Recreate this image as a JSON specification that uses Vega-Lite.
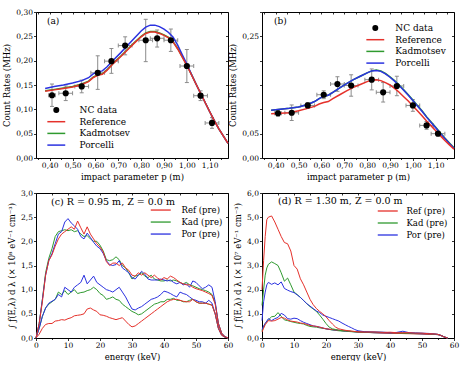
{
"$schema":"https://vega.github.io/schema/vega-lite/v6.json",
"padding":{"left":2,"top":7,"right":0,"bottom":0},
"config":{
 "font":"DejaVu Serif",
 "view":{"stroke":"black","strokeWidth":1},
 "axis":{"grid":false,"domain":false,"tickColor":"black","labelColor":"black","titleColor":"black","labelFontSize":7.5,"titleFontSize":8.5,"titleFontWeight":"normal","tickSize":2.5,"labelPadding":1,"titlePadding":3,"labelOverlap":false,"labelFlush":false,"tickWidth":0.8},
 "legend":{"labelColor":"black","padding":0,"offset":0,"labelLimit":200},
 "text":{"color":"black","align":"left","baseline":"middle"}
},
"datasets":{
 "one":[{"k":1}],
 "nc_a":[
  {"series":"NC data","p":0.41,"y":0.129,"ylo":0.106,"yhi":0.152,"xlo":0.395,"xhi":0.425},
  {"series":"NC data","p":0.47,"y":0.133,"ylo":0.118,"yhi":0.148,"xlo":0.44,"xhi":0.50},
  {"series":"NC data","p":0.54,"y":0.147,"ylo":0.134,"yhi":0.160,"xlo":0.51,"xhi":0.57},
  {"series":"NC data","p":0.61,"y":0.175,"ylo":0.141,"yhi":0.210,"xlo":0.58,"xhi":0.64},
  {"series":"NC data","p":0.67,"y":0.199,"ylo":0.174,"yhi":0.225,"xlo":0.64,"xhi":0.70},
  {"series":"NC data","p":0.73,"y":0.231,"ylo":0.212,"yhi":0.249,"xlo":0.70,"xhi":0.76},
  {"series":"NC data","p":0.82,"y":0.242,"ylo":0.198,"yhi":0.285,"xlo":0.79,"xhi":0.85},
  {"series":"NC data","p":0.87,"y":0.246,"ylo":0.228,"yhi":0.263,"xlo":0.84,"xhi":0.90},
  {"series":"NC data","p":0.93,"y":0.242,"ylo":0.219,"yhi":0.265,"xlo":0.90,"xhi":0.96},
  {"series":"NC data","p":1.00,"y":0.189,"ylo":0.155,"yhi":0.223,"xlo":0.97,"xhi":1.03},
  {"series":"NC data","p":1.06,"y":0.128,"ylo":0.118,"yhi":0.138,"xlo":1.03,"xhi":1.09},
  {"series":"NC data","p":1.11,"y":0.072,"ylo":0.061,"yhi":0.083,"xlo":1.08,"xhi":1.14}
 ],
 "nc_b":[
  {"series":"NC data","p":0.41,"y":0.092,"ylo":0.086,"yhi":0.098,"xlo":0.395,"xhi":0.425},
  {"series":"NC data","p":0.47,"y":0.093,"ylo":0.077,"yhi":0.109,"xlo":0.44,"xhi":0.50},
  {"series":"NC data","p":0.54,"y":0.108,"ylo":0.102,"yhi":0.114,"xlo":0.51,"xhi":0.57},
  {"series":"NC data","p":0.61,"y":0.130,"ylo":0.122,"yhi":0.138,"xlo":0.58,"xhi":0.64},
  {"series":"NC data","p":0.67,"y":0.152,"ylo":0.137,"yhi":0.167,"xlo":0.64,"xhi":0.70},
  {"series":"NC data","p":0.73,"y":0.149,"ylo":0.127,"yhi":0.171,"xlo":0.70,"xhi":0.76},
  {"series":"NC data","p":0.82,"y":0.161,"ylo":0.140,"yhi":0.183,"xlo":0.79,"xhi":0.85},
  {"series":"NC data","p":0.87,"y":0.135,"ylo":0.115,"yhi":0.155,"xlo":0.84,"xhi":0.90},
  {"series":"NC data","p":0.93,"y":0.148,"ylo":0.128,"yhi":0.168,"xlo":0.90,"xhi":0.96},
  {"series":"NC data","p":1.00,"y":0.108,"ylo":0.096,"yhi":0.120,"xlo":0.97,"xhi":1.03},
  {"series":"NC data","p":1.06,"y":0.067,"ylo":0.059,"yhi":0.075,"xlo":1.03,"xhi":1.09},
  {"series":"NC data","p":1.11,"y":0.050,"ylo":0.047,"yhi":0.053,"xlo":1.08,"xhi":1.14}
 ],
 "cur_a":[
  {"p":0.38,"Reference":0.137,"Kadmotsev":0.138,"Porcelli":0.143},
  {"p":0.42,"Reference":0.140,"Kadmotsev":0.141,"Porcelli":0.147},
  {"p":0.46,"Reference":0.143,"Kadmotsev":0.144,"Porcelli":0.150},
  {"p":0.50,"Reference":0.146,"Kadmotsev":0.147,"Porcelli":0.154},
  {"p":0.54,"Reference":0.151,"Kadmotsev":0.152,"Porcelli":0.159},
  {"p":0.57,"Reference":0.157,"Kadmotsev":0.158,"Porcelli":0.165},
  {"p":0.59,"Reference":0.165,"Kadmotsev":0.166,"Porcelli":0.173},
  {"p":0.61,"Reference":0.170,"Kadmotsev":0.171,"Porcelli":0.177},
  {"p":0.63,"Reference":0.172,"Kadmotsev":0.173,"Porcelli":0.179},
  {"p":0.65,"Reference":0.180,"Kadmotsev":0.181,"Porcelli":0.187},
  {"p":0.68,"Reference":0.195,"Kadmotsev":0.196,"Porcelli":0.202},
  {"p":0.71,"Reference":0.208,"Kadmotsev":0.209,"Porcelli":0.216},
  {"p":0.74,"Reference":0.222,"Kadmotsev":0.223,"Porcelli":0.231},
  {"p":0.77,"Reference":0.236,"Kadmotsev":0.237,"Porcelli":0.246},
  {"p":0.80,"Reference":0.249,"Kadmotsev":0.250,"Porcelli":0.261},
  {"p":0.82,"Reference":0.256,"Kadmotsev":0.257,"Porcelli":0.269},
  {"p":0.84,"Reference":0.259,"Kadmotsev":0.260,"Porcelli":0.273},
  {"p":0.86,"Reference":0.259,"Kadmotsev":0.260,"Porcelli":0.273},
  {"p":0.88,"Reference":0.256,"Kadmotsev":0.257,"Porcelli":0.270},
  {"p":0.90,"Reference":0.252,"Kadmotsev":0.253,"Porcelli":0.265},
  {"p":0.92,"Reference":0.247,"Kadmotsev":0.248,"Porcelli":0.258},
  {"p":0.94,"Reference":0.238,"Kadmotsev":0.239,"Porcelli":0.248},
  {"p":0.96,"Reference":0.224,"Kadmotsev":0.225,"Porcelli":0.232},
  {"p":0.98,"Reference":0.207,"Kadmotsev":0.208,"Porcelli":0.212},
  {"p":1.00,"Reference":0.190,"Kadmotsev":0.191,"Porcelli":0.193},
  {"p":1.02,"Reference":0.171,"Kadmotsev":0.172,"Porcelli":0.172},
  {"p":1.04,"Reference":0.152,"Kadmotsev":0.152,"Porcelli":0.152},
  {"p":1.06,"Reference":0.133,"Kadmotsev":0.133,"Porcelli":0.133},
  {"p":1.08,"Reference":0.114,"Kadmotsev":0.114,"Porcelli":0.114},
  {"p":1.10,"Reference":0.095,"Kadmotsev":0.095,"Porcelli":0.095},
  {"p":1.12,"Reference":0.077,"Kadmotsev":0.077,"Porcelli":0.077},
  {"p":1.14,"Reference":0.060,"Kadmotsev":0.060,"Porcelli":0.060},
  {"p":1.16,"Reference":0.045,"Kadmotsev":0.045,"Porcelli":0.045},
  {"p":1.18,"Reference":0.030,"Kadmotsev":0.030,"Porcelli":0.030}
 ],
 "cur_b":[
  {"p":0.38,"Reference":0.091,"Kadmotsev":0.098,"Porcelli":0.098},
  {"p":0.42,"Reference":0.092,"Kadmotsev":0.100,"Porcelli":0.100},
  {"p":0.46,"Reference":0.093,"Kadmotsev":0.102,"Porcelli":0.102},
  {"p":0.50,"Reference":0.097,"Kadmotsev":0.105,"Porcelli":0.105},
  {"p":0.54,"Reference":0.102,"Kadmotsev":0.110,"Porcelli":0.110},
  {"p":0.57,"Reference":0.106,"Kadmotsev":0.116,"Porcelli":0.116},
  {"p":0.59,"Reference":0.111,"Kadmotsev":0.122,"Porcelli":0.122},
  {"p":0.61,"Reference":0.114,"Kadmotsev":0.127,"Porcelli":0.127},
  {"p":0.63,"Reference":0.116,"Kadmotsev":0.129,"Porcelli":0.129},
  {"p":0.65,"Reference":0.122,"Kadmotsev":0.135,"Porcelli":0.135},
  {"p":0.68,"Reference":0.130,"Kadmotsev":0.144,"Porcelli":0.144},
  {"p":0.71,"Reference":0.138,"Kadmotsev":0.153,"Porcelli":0.153},
  {"p":0.74,"Reference":0.145,"Kadmotsev":0.161,"Porcelli":0.161},
  {"p":0.77,"Reference":0.151,"Kadmotsev":0.168,"Porcelli":0.168},
  {"p":0.80,"Reference":0.157,"Kadmotsev":0.175,"Porcelli":0.175},
  {"p":0.82,"Reference":0.160,"Kadmotsev":0.179,"Porcelli":0.179},
  {"p":0.84,"Reference":0.161,"Kadmotsev":0.181,"Porcelli":0.180},
  {"p":0.86,"Reference":0.159,"Kadmotsev":0.179,"Porcelli":0.178},
  {"p":0.88,"Reference":0.155,"Kadmotsev":0.174,"Porcelli":0.173},
  {"p":0.90,"Reference":0.150,"Kadmotsev":0.167,"Porcelli":0.166},
  {"p":0.92,"Reference":0.143,"Kadmotsev":0.159,"Porcelli":0.158},
  {"p":0.94,"Reference":0.135,"Kadmotsev":0.150,"Porcelli":0.149},
  {"p":0.96,"Reference":0.126,"Kadmotsev":0.140,"Porcelli":0.139},
  {"p":0.98,"Reference":0.117,"Kadmotsev":0.130,"Porcelli":0.129},
  {"p":1.00,"Reference":0.107,"Kadmotsev":0.119,"Porcelli":0.118},
  {"p":1.02,"Reference":0.097,"Kadmotsev":0.108,"Porcelli":0.107},
  {"p":1.04,"Reference":0.087,"Kadmotsev":0.097,"Porcelli":0.096},
  {"p":1.06,"Reference":0.076,"Kadmotsev":0.085,"Porcelli":0.084},
  {"p":1.08,"Reference":0.066,"Kadmotsev":0.074,"Porcelli":0.073},
  {"p":1.10,"Reference":0.056,"Kadmotsev":0.063,"Porcelli":0.062},
  {"p":1.12,"Reference":0.046,"Kadmotsev":0.052,"Porcelli":0.051},
  {"p":1.14,"Reference":0.036,"Kadmotsev":0.041,"Porcelli":0.040},
  {"p":1.16,"Reference":0.027,"Kadmotsev":0.031,"Porcelli":0.030},
  {"p":1.18,"Reference":0.018,"Kadmotsev":0.021,"Porcelli":0.020}
 ],
 "c_hi":[
  {"E":0,"Ref (pre)":0,"Kad (pre)":0,"Por (pre)":0},
  {"E":1,"Ref (pre)":0.3,"Kad (pre)":0.3,"Por (pre)":0.3},
  {"E":2,"Ref (pre)":0.75,"Kad (pre)":0.8,"Por (pre)":0.8},
  {"E":3,"Ref (pre)":1.3,"Kad (pre)":1.35,"Por (pre)":1.3},
  {"E":4,"Ref (pre)":1.6,"Kad (pre)":1.65,"Por (pre)":1.6},
  {"E":5,"Ref (pre)":1.72,"Kad (pre)":1.85,"Por (pre)":1.75},
  {"E":6,"Ref (pre)":1.9,"Kad (pre)":2.1,"Por (pre)":1.95},
  {"E":7,"Ref (pre)":2.05,"Kad (pre)":2.2,"Por (pre)":2.15},
  {"E":8,"Ref (pre)":2.15,"Kad (pre)":2.22,"Por (pre)":2.2},
  {"E":9,"Ref (pre)":2.2,"Kad (pre)":2.24,"Por (pre)":2.4},
  {"E":10,"Ref (pre)":2.25,"Kad (pre)":2.22,"Por (pre)":2.47},
  {"E":11,"Ref (pre)":2.3,"Kad (pre)":2.24,"Por (pre)":2.38},
  {"E":12,"Ref (pre)":2.25,"Kad (pre)":2.2,"Por (pre)":2.32},
  {"E":13,"Ref (pre)":2.42,"Kad (pre)":2.22,"Por (pre)":2.25},
  {"E":14,"Ref (pre)":2.28,"Kad (pre)":2.15,"Por (pre)":2.1},
  {"E":15,"Ref (pre)":2.15,"Kad (pre)":2.1,"Por (pre)":2.05},
  {"E":16,"Ref (pre)":2.3,"Kad (pre)":2.12,"Por (pre)":2.17},
  {"E":17,"Ref (pre)":2.15,"Kad (pre)":2.05,"Por (pre)":2.08},
  {"E":18,"Ref (pre)":2.05,"Kad (pre)":2.0,"Por (pre)":1.98},
  {"E":19,"Ref (pre)":1.95,"Kad (pre)":2.0,"Por (pre)":1.9},
  {"E":20,"Ref (pre)":1.88,"Kad (pre)":1.92,"Por (pre)":1.85},
  {"E":21,"Ref (pre)":1.78,"Kad (pre)":1.8,"Por (pre)":1.75},
  {"E":22,"Ref (pre)":1.58,"Kad (pre)":1.62,"Por (pre)":1.6},
  {"E":23,"Ref (pre)":1.5,"Kad (pre)":1.6,"Por (pre)":1.52},
  {"E":24,"Ref (pre)":1.55,"Kad (pre)":1.62,"Por (pre)":1.5},
  {"E":25,"Ref (pre)":1.55,"Kad (pre)":1.68,"Por (pre)":1.52},
  {"E":26,"Ref (pre)":1.5,"Kad (pre)":1.62,"Por (pre)":1.6},
  {"E":27,"Ref (pre)":1.55,"Kad (pre)":1.5,"Por (pre)":1.45},
  {"E":28,"Ref (pre)":1.45,"Kad (pre)":1.45,"Por (pre)":1.4},
  {"E":29,"Ref (pre)":1.4,"Kad (pre)":1.35,"Por (pre)":1.35},
  {"E":30,"Ref (pre)":1.3,"Kad (pre)":1.22,"Por (pre)":1.25},
  {"E":31,"Ref (pre)":1.28,"Kad (pre)":1.28,"Por (pre)":1.22},
  {"E":32,"Ref (pre)":1.35,"Kad (pre)":1.3,"Por (pre)":1.3},
  {"E":33,"Ref (pre)":1.3,"Kad (pre)":1.35,"Por (pre)":1.38},
  {"E":34,"Ref (pre)":1.35,"Kad (pre)":1.28,"Por (pre)":1.32},
  {"E":35,"Ref (pre)":1.3,"Kad (pre)":1.25,"Por (pre)":1.22},
  {"E":36,"Ref (pre)":1.25,"Kad (pre)":1.3,"Por (pre)":1.2},
  {"E":37,"Ref (pre)":1.3,"Kad (pre)":1.22,"Por (pre)":1.2},
  {"E":38,"Ref (pre)":1.24,"Kad (pre)":1.2,"Por (pre)":1.2},
  {"E":39,"Ref (pre)":1.2,"Kad (pre)":1.18,"Por (pre)":1.22},
  {"E":40,"Ref (pre)":1.25,"Kad (pre)":1.18,"Por (pre)":1.2},
  {"E":41,"Ref (pre)":1.22,"Kad (pre)":1.2,"Por (pre)":1.18},
  {"E":42,"Ref (pre)":1.28,"Kad (pre)":1.18,"Por (pre)":1.2},
  {"E":43,"Ref (pre)":1.25,"Kad (pre)":1.2,"Por (pre)":1.15},
  {"E":44,"Ref (pre)":1.2,"Kad (pre)":1.18,"Por (pre)":1.12},
  {"E":45,"Ref (pre)":1.15,"Kad (pre)":1.15,"Por (pre)":1.15},
  {"E":46,"Ref (pre)":1.12,"Kad (pre)":1.12,"Por (pre)":1.1},
  {"E":47,"Ref (pre)":1.1,"Kad (pre)":1.15,"Por (pre)":1.12},
  {"E":48,"Ref (pre)":1.1,"Kad (pre)":1.1,"Por (pre)":1.05},
  {"E":49,"Ref (pre)":1.05,"Kad (pre)":1.08,"Por (pre)":1.18},
  {"E":50,"Ref (pre)":1.02,"Kad (pre)":1.05,"Por (pre)":1.15},
  {"E":51,"Ref (pre)":1.0,"Kad (pre)":1.02,"Por (pre)":1.08},
  {"E":52,"Ref (pre)":0.98,"Kad (pre)":1.0,"Por (pre)":1.02},
  {"E":53,"Ref (pre)":0.95,"Kad (pre)":0.98,"Por (pre)":1.05},
  {"E":54,"Ref (pre)":0.92,"Kad (pre)":0.95,"Por (pre)":1.1},
  {"E":55,"Ref (pre)":0.88,"Kad (pre)":0.9,"Por (pre)":1.05},
  {"E":56,"Ref (pre)":0.7,"Kad (pre)":0.72,"Por (pre)":0.75},
  {"E":57,"Ref (pre)":0.3,"Kad (pre)":0.3,"Por (pre)":0.3},
  {"E":58,"Ref (pre)":0.1,"Kad (pre)":0.1,"Por (pre)":0.1},
  {"E":59,"Ref (pre)":0.03,"Kad (pre)":0.03,"Por (pre)":0.03},
  {"E":60,"Ref (pre)":0,"Kad (pre)":0,"Por (pre)":0}
 ],
 "c_lo":[
  {"E":0,"Ref (pre)":0,"Kad (pre)":0,"Por (pre)":0},
  {"E":1,"Ref (pre)":0.08,"Kad (pre)":0.2,"Por (pre)":0.2},
  {"E":2,"Ref (pre)":0.2,"Kad (pre)":0.45,"Por (pre)":0.45},
  {"E":3,"Ref (pre)":0.28,"Kad (pre)":0.62,"Por (pre)":0.62},
  {"E":4,"Ref (pre)":0.3,"Kad (pre)":0.7,"Por (pre)":0.72},
  {"E":5,"Ref (pre)":0.3,"Kad (pre)":0.75,"Por (pre)":0.76},
  {"E":6,"Ref (pre)":0.35,"Kad (pre)":0.8,"Por (pre)":0.8},
  {"E":7,"Ref (pre)":0.36,"Kad (pre)":0.95,"Por (pre)":0.9},
  {"E":8,"Ref (pre)":0.38,"Kad (pre)":0.9,"Por (pre)":0.85},
  {"E":9,"Ref (pre)":0.37,"Kad (pre)":0.98,"Por (pre)":1.05},
  {"E":10,"Ref (pre)":0.4,"Kad (pre)":0.9,"Por (pre)":1.0},
  {"E":11,"Ref (pre)":0.42,"Kad (pre)":0.95,"Por (pre)":0.95},
  {"E":12,"Ref (pre)":0.46,"Kad (pre)":1.0,"Por (pre)":1.05},
  {"E":13,"Ref (pre)":0.47,"Kad (pre)":0.92,"Por (pre)":1.1},
  {"E":14,"Ref (pre)":0.48,"Kad (pre)":0.94,"Por (pre)":1.15},
  {"E":15,"Ref (pre)":0.5,"Kad (pre)":0.95,"Por (pre)":1.3},
  {"E":16,"Ref (pre)":0.6,"Kad (pre)":0.98,"Por (pre)":1.12},
  {"E":17,"Ref (pre)":0.62,"Kad (pre)":1.0,"Por (pre)":1.2},
  {"E":18,"Ref (pre)":0.58,"Kad (pre)":1.05,"Por (pre)":1.28},
  {"E":19,"Ref (pre)":0.55,"Kad (pre)":1.0,"Por (pre)":1.15},
  {"E":20,"Ref (pre)":0.48,"Kad (pre)":0.92,"Por (pre)":1.1},
  {"E":21,"Ref (pre)":0.47,"Kad (pre)":0.88,"Por (pre)":1.05},
  {"E":22,"Ref (pre)":0.45,"Kad (pre)":0.8,"Por (pre)":1.0},
  {"E":23,"Ref (pre)":0.42,"Kad (pre)":0.82,"Por (pre)":0.98},
  {"E":24,"Ref (pre)":0.4,"Kad (pre)":0.85,"Por (pre)":0.95},
  {"E":25,"Ref (pre)":0.38,"Kad (pre)":0.8,"Por (pre)":1.0},
  {"E":26,"Ref (pre)":0.4,"Kad (pre)":0.78,"Por (pre)":1.05},
  {"E":27,"Ref (pre)":0.42,"Kad (pre)":0.7,"Por (pre)":0.95},
  {"E":28,"Ref (pre)":0.35,"Kad (pre)":0.65,"Por (pre)":0.85},
  {"E":29,"Ref (pre)":0.28,"Kad (pre)":0.6,"Por (pre)":0.72},
  {"E":30,"Ref (pre)":0.23,"Kad (pre)":0.55,"Por (pre)":0.6},
  {"E":31,"Ref (pre)":0.25,"Kad (pre)":0.52,"Por (pre)":0.58},
  {"E":32,"Ref (pre)":0.3,"Kad (pre)":0.48,"Por (pre)":0.62},
  {"E":33,"Ref (pre)":0.35,"Kad (pre)":0.5,"Por (pre)":0.65},
  {"E":34,"Ref (pre)":0.4,"Kad (pre)":0.55,"Por (pre)":0.7},
  {"E":35,"Ref (pre)":0.45,"Kad (pre)":0.6,"Por (pre)":0.75},
  {"E":36,"Ref (pre)":0.5,"Kad (pre)":0.65,"Por (pre)":0.8},
  {"E":37,"Ref (pre)":0.55,"Kad (pre)":0.7,"Por (pre)":0.82},
  {"E":38,"Ref (pre)":0.6,"Kad (pre)":0.72,"Por (pre)":0.85},
  {"E":39,"Ref (pre)":0.65,"Kad (pre)":0.75,"Por (pre)":0.9},
  {"E":40,"Ref (pre)":0.7,"Kad (pre)":0.75,"Por (pre)":0.97},
  {"E":41,"Ref (pre)":0.75,"Kad (pre)":0.8,"Por (pre)":0.95},
  {"E":42,"Ref (pre)":0.78,"Kad (pre)":0.8,"Por (pre)":0.92},
  {"E":43,"Ref (pre)":0.8,"Kad (pre)":0.82,"Por (pre)":0.88},
  {"E":44,"Ref (pre)":0.8,"Kad (pre)":0.78,"Por (pre)":0.85},
  {"E":45,"Ref (pre)":0.78,"Kad (pre)":0.78,"Por (pre)":0.95},
  {"E":46,"Ref (pre)":0.76,"Kad (pre)":0.75,"Por (pre)":0.92},
  {"E":47,"Ref (pre)":0.75,"Kad (pre)":0.75,"Por (pre)":0.9},
  {"E":48,"Ref (pre)":0.75,"Kad (pre)":0.78,"Por (pre)":0.85},
  {"E":49,"Ref (pre)":0.8,"Kad (pre)":0.8,"Por (pre)":0.8},
  {"E":50,"Ref (pre)":0.75,"Kad (pre)":0.75,"Por (pre)":0.78},
  {"E":51,"Ref (pre)":0.72,"Kad (pre)":0.72,"Por (pre)":0.75},
  {"E":52,"Ref (pre)":0.72,"Kad (pre)":0.72,"Por (pre)":0.75},
  {"E":53,"Ref (pre)":0.72,"Kad (pre)":0.72,"Por (pre)":0.72},
  {"E":54,"Ref (pre)":0.7,"Kad (pre)":0.7,"Por (pre)":0.78},
  {"E":55,"Ref (pre)":0.68,"Kad (pre)":0.68,"Por (pre)":0.72},
  {"E":56,"Ref (pre)":0.5,"Kad (pre)":0.5,"Por (pre)":0.5},
  {"E":57,"Ref (pre)":0.2,"Kad (pre)":0.2,"Por (pre)":0.2},
  {"E":58,"Ref (pre)":0.06,"Kad (pre)":0.06,"Por (pre)":0.06},
  {"E":59,"Ref (pre)":0.02,"Kad (pre)":0.02,"Por (pre)":0.02},
  {"E":60,"Ref (pre)":0,"Kad (pre)":0,"Por (pre)":0}
 ],
 "d_hi":[
  {"E":0,"Ref (pre)":2.0,"Kad (pre)":1.35,"Por (pre)":0.72},
  {"E":0.5,"Ref (pre)":3.2,"Kad (pre)":2.0,"Por (pre)":1.5},
  {"E":1,"Ref (pre)":4.2,"Kad (pre)":2.6,"Por (pre)":1.9},
  {"E":1.5,"Ref (pre)":4.9,"Kad (pre)":2.9,"Por (pre)":2.2},
  {"E":2,"Ref (pre)":5.0,"Kad (pre)":3.05,"Por (pre)":2.3},
  {"E":3,"Ref (pre)":5.05,"Kad (pre)":3.15,"Por (pre)":2.22},
  {"E":4,"Ref (pre)":4.8,"Kad (pre)":3.08,"Por (pre)":2.28},
  {"E":5,"Ref (pre)":4.5,"Kad (pre)":3.0,"Por (pre)":2.2},
  {"E":6,"Ref (pre)":4.2,"Kad (pre)":2.7,"Por (pre)":2.32},
  {"E":7,"Ref (pre)":3.95,"Kad (pre)":2.35,"Por (pre)":2.05},
  {"E":8,"Ref (pre)":3.9,"Kad (pre)":2.48,"Por (pre)":1.98},
  {"E":9,"Ref (pre)":3.6,"Kad (pre)":2.2,"Por (pre)":1.92},
  {"E":10,"Ref (pre)":3.0,"Kad (pre)":1.9,"Por (pre)":1.88},
  {"E":11,"Ref (pre)":2.85,"Kad (pre)":1.8,"Por (pre)":1.78},
  {"E":12,"Ref (pre)":2.45,"Kad (pre)":1.68,"Por (pre)":1.68},
  {"E":13,"Ref (pre)":2.2,"Kad (pre)":1.55,"Por (pre)":1.55},
  {"E":14,"Ref (pre)":1.9,"Kad (pre)":1.42,"Por (pre)":1.42},
  {"E":15,"Ref (pre)":1.6,"Kad (pre)":1.3,"Por (pre)":1.32},
  {"E":16,"Ref (pre)":1.38,"Kad (pre)":1.2,"Por (pre)":1.22},
  {"E":17,"Ref (pre)":1.22,"Kad (pre)":1.1,"Por (pre)":1.12},
  {"E":18,"Ref (pre)":1.1,"Kad (pre)":0.95,"Por (pre)":1.05},
  {"E":19,"Ref (pre)":1.0,"Kad (pre)":0.78,"Por (pre)":0.95},
  {"E":20,"Ref (pre)":0.88,"Kad (pre)":0.6,"Por (pre)":0.9},
  {"E":21,"Ref (pre)":0.72,"Kad (pre)":0.45,"Por (pre)":0.85},
  {"E":22,"Ref (pre)":0.58,"Kad (pre)":0.38,"Por (pre)":0.8},
  {"E":23,"Ref (pre)":0.45,"Kad (pre)":0.35,"Por (pre)":0.75},
  {"E":24,"Ref (pre)":0.38,"Kad (pre)":0.32,"Por (pre)":0.7},
  {"E":25,"Ref (pre)":0.35,"Kad (pre)":0.3,"Por (pre)":0.62},
  {"E":26,"Ref (pre)":0.32,"Kad (pre)":0.3,"Por (pre)":0.55},
  {"E":27,"Ref (pre)":0.3,"Kad (pre)":0.28,"Por (pre)":0.48},
  {"E":28,"Ref (pre)":0.28,"Kad (pre)":0.27,"Por (pre)":0.42},
  {"E":29,"Ref (pre)":0.27,"Kad (pre)":0.26,"Por (pre)":0.35},
  {"E":30,"Ref (pre)":0.26,"Kad (pre)":0.26,"Por (pre)":0.3},
  {"E":32,"Ref (pre)":0.25,"Kad (pre)":0.25,"Por (pre)":0.26},
  {"E":35,"Ref (pre)":0.25,"Kad (pre)":0.24,"Por (pre)":0.25},
  {"E":38,"Ref (pre)":0.23,"Kad (pre)":0.23,"Por (pre)":0.24},
  {"E":40,"Ref (pre)":0.24,"Kad (pre)":0.22,"Por (pre)":0.22},
  {"E":42,"Ref (pre)":0.22,"Kad (pre)":0.22,"Por (pre)":0.23},
  {"E":44,"Ref (pre)":0.22,"Kad (pre)":0.2,"Por (pre)":0.28},
  {"E":46,"Ref (pre)":0.22,"Kad (pre)":0.2,"Por (pre)":0.22},
  {"E":48,"Ref (pre)":0.2,"Kad (pre)":0.2,"Por (pre)":0.21},
  {"E":50,"Ref (pre)":0.2,"Kad (pre)":0.19,"Por (pre)":0.2},
  {"E":52,"Ref (pre)":0.18,"Kad (pre)":0.18,"Por (pre)":0.19},
  {"E":54,"Ref (pre)":0.17,"Kad (pre)":0.16,"Por (pre)":0.17},
  {"E":55,"Ref (pre)":0.15,"Kad (pre)":0.15,"Por (pre)":0.15},
  {"E":56,"Ref (pre)":0.1,"Kad (pre)":0.1,"Por (pre)":0.1},
  {"E":57,"Ref (pre)":0.04,"Kad (pre)":0.04,"Por (pre)":0.04},
  {"E":58,"Ref (pre)":0,"Kad (pre)":0,"Por (pre)":0}
 ],
 "d_lo":[
  {"E":0,"Ref (pre)":0.25,"Kad (pre)":0.3,"Por (pre)":0.35},
  {"E":0.5,"Ref (pre)":0.4,"Kad (pre)":0.45,"Por (pre)":0.5},
  {"E":1,"Ref (pre)":0.55,"Kad (pre)":0.6,"Por (pre)":0.6},
  {"E":2,"Ref (pre)":0.72,"Kad (pre)":0.75,"Por (pre)":0.8},
  {"E":3,"Ref (pre)":0.7,"Kad (pre)":0.88,"Por (pre)":0.72},
  {"E":4,"Ref (pre)":0.72,"Kad (pre)":0.9,"Por (pre)":0.8},
  {"E":5,"Ref (pre)":0.78,"Kad (pre)":1.05,"Por (pre)":0.85},
  {"E":6,"Ref (pre)":0.85,"Kad (pre)":0.9,"Por (pre)":1.02},
  {"E":7,"Ref (pre)":0.82,"Kad (pre)":0.75,"Por (pre)":0.95},
  {"E":8,"Ref (pre)":0.75,"Kad (pre)":0.72,"Por (pre)":0.8},
  {"E":9,"Ref (pre)":0.7,"Kad (pre)":0.68,"Por (pre)":0.78},
  {"E":10,"Ref (pre)":0.68,"Kad (pre)":0.65,"Por (pre)":0.82},
  {"E":11,"Ref (pre)":0.66,"Kad (pre)":0.62,"Por (pre)":0.8},
  {"E":12,"Ref (pre)":0.62,"Kad (pre)":0.6,"Por (pre)":0.72},
  {"E":13,"Ref (pre)":0.6,"Kad (pre)":0.58,"Por (pre)":0.65},
  {"E":14,"Ref (pre)":0.56,"Kad (pre)":0.52,"Por (pre)":0.6},
  {"E":15,"Ref (pre)":0.52,"Kad (pre)":0.48,"Por (pre)":0.55},
  {"E":16,"Ref (pre)":0.5,"Kad (pre)":0.46,"Por (pre)":0.5},
  {"E":17,"Ref (pre)":0.48,"Kad (pre)":0.45,"Por (pre)":0.48},
  {"E":18,"Ref (pre)":0.45,"Kad (pre)":0.42,"Por (pre)":0.45},
  {"E":20,"Ref (pre)":0.38,"Kad (pre)":0.38,"Por (pre)":0.38},
  {"E":22,"Ref (pre)":0.35,"Kad (pre)":0.33,"Por (pre)":0.34},
  {"E":24,"Ref (pre)":0.32,"Kad (pre)":0.3,"Por (pre)":0.32},
  {"E":26,"Ref (pre)":0.3,"Kad (pre)":0.28,"Por (pre)":0.29},
  {"E":28,"Ref (pre)":0.28,"Kad (pre)":0.26,"Por (pre)":0.27},
  {"E":30,"Ref (pre)":0.25,"Kad (pre)":0.24,"Por (pre)":0.25},
  {"E":35,"Ref (pre)":0.22,"Kad (pre)":0.22,"Por (pre)":0.22},
  {"E":40,"Ref (pre)":0.2,"Kad (pre)":0.2,"Por (pre)":0.2},
  {"E":45,"Ref (pre)":0.18,"Kad (pre)":0.19,"Por (pre)":0.2},
  {"E":50,"Ref (pre)":0.17,"Kad (pre)":0.17,"Por (pre)":0.17},
  {"E":55,"Ref (pre)":0.14,"Kad (pre)":0.14,"Por (pre)":0.14},
  {"E":56,"Ref (pre)":0.1,"Kad (pre)":0.1,"Por (pre)":0.1},
  {"E":57,"Ref (pre)":0.04,"Kad (pre)":0.04,"Por (pre)":0.04},
  {"E":58,"Ref (pre)":0,"Kad (pre)":0,"Por (pre)":0}
 ]
},
"columns":2,
"spacing":{"row":35,"column":34},
"bounds":"flush",
"resolve":{"scale":{"color":"independent","shape":"independent"},"legend":{"color":"independent","shape":"independent"}},
"concat":[
 {
  "width":192,"height":146,
  "resolve":{"axis":{"x":"independent","y":"independent"}},
  "layer":[
   {"data":{"name":"nc_a"},"mark":{"type":"rule","color":"#8c8c8c","strokeWidth":1},
    "encoding":{
     "x":{"field":"p","type":"quantitative","scale":{"domain":[0.34,1.18],"nice":false,"zero":false},"axis":{"orient":"top","values":[0.35,0.4,0.45,0.5,0.55,0.6,0.65,0.7,0.75,0.8,0.85,0.9,0.95,1.0,1.05,1.1,1.15],"labels":false,"tickSize":-2,"title":null}},
     "y":{"field":"ylo","type":"quantitative","scale":{"domain":[0,0.3],"nice":false},"axis":{"orient":"right","values":[0,0.05,0.1,0.15,0.2,0.25,0.3],"labels":false,"tickSize":-2.5,"title":null}},
     "y2":{"field":"yhi"}}},
   {"data":{"name":"nc_a"},"mark":{"type":"rule","color":"#8c8c8c","strokeWidth":1},
    "encoding":{
     "x":{"field":"xlo","type":"quantitative","scale":{"domain":[0.34,1.18],"nice":false,"zero":false},"axis":null},
     "x2":{"field":"xhi"},
     "y":{"field":"y","type":"quantitative","scale":{"domain":[0,0.3],"nice":false},"axis":null}}},
   {"data":{"name":"nc_a"},"mark":{"type":"tick","orient":"horizontal","color":"#8c8c8c","size":4,"thickness":1,"opacity":1},
    "encoding":{"x":{"field":"p","type":"quantitative","axis":null},"y":{"field":"ylo","type":"quantitative","axis":null}}},
   {"data":{"name":"nc_a"},"mark":{"type":"tick","orient":"horizontal","color":"#8c8c8c","size":4,"thickness":1,"opacity":1},
    "encoding":{"x":{"field":"p","type":"quantitative","axis":null},"y":{"field":"yhi","type":"quantitative","axis":null}}},
   {"data":{"name":"nc_a"},"mark":{"type":"tick","orient":"vertical","color":"#8c8c8c","size":4,"thickness":1,"opacity":1},
    "encoding":{"x":{"field":"xlo","type":"quantitative","axis":null},"y":{"field":"y","type":"quantitative","axis":null}}},
   {"data":{"name":"nc_a"},"mark":{"type":"tick","orient":"vertical","color":"#8c8c8c","size":4,"thickness":1,"opacity":1},
    "encoding":{"x":{"field":"xhi","type":"quantitative","axis":null},"y":{"field":"y","type":"quantitative","axis":null}}},
   {"data":{"name":"cur_a"},"transform":[{"fold":["Kadmotsev","Porcelli","Reference"],"as":["series","v"]}],
    "mark":{"type":"line","strokeWidth":1.5},
    "encoding":{
     "x":{"field":"p","type":"quantitative","axis":{"orient":"bottom","values":[0.35,0.4,0.45,0.5,0.55,0.6,0.65,0.7,0.75,0.8,0.85,0.9,0.95,1.0,1.05,1.1,1.15],"labelExpr":"round(datum.value*100)%10==0 ? replace(format(datum.value,'.2f'),'.',',') : ''","tickSize":{"condition":{"test":"round(datum.value*100)%10==0","value":2.5},"value":1.5},"title":"impact parameter p (m)"}},
     "y":{"field":"v","type":"quantitative","axis":{"orient":"left","values":[0,0.05,0.1,0.15,0.2,0.25,0.3],"labelExpr":"replace(format(datum.value,'.2f'),'.',',')","title":"Count Rates (MHz)","titlePadding":4}},
     "color":{"field":"series","type":"nominal","scale":{"domain":["NC data","Reference","Kadmotsev","Porcelli"],"range":["black","#e5312b","#2f9a2f","#2b32e0"]},"legend":{"orient":"none","legendX":15.8,"legendY":93.5,"title":null,"symbolSize":20,"labelFontSize":9,"labelOffset":18.7,"rowPadding":1.7,"symbolStrokeWidth":1.5}},
     "detail":{"field":"series"}}},
   {"data":{"name":"nc_a"},"mark":{"type":"point","filled":false,"fill":"black","size":22,"strokeWidth":1.5,"opacity":1},
    "encoding":{
     "x":{"field":"p","type":"quantitative","axis":null},
     "y":{"field":"y","type":"quantitative","axis":null},
     "color":{"field":"series","type":"nominal","scale":{"domain":["NC data","Reference","Kadmotsev","Porcelli"],"range":["black","#e5312b","#2f9a2f","#2b32e0"]},"legend":{"orient":"none","legendX":15.8,"legendY":93.5,"title":null,"symbolSize":20,"labelFontSize":9,"labelOffset":18.7,"rowPadding":1.7,"symbolStrokeWidth":1.5}},
     "shape":{"field":"series","type":"nominal","scale":{"domain":["NC data","Reference","Kadmotsev","Porcelli"],"range":["circle","M-4,0H4","M-4,0H4","M-4,0H4"]},"legend":{"orient":"none","legendX":15.8,"legendY":93.5,"title":null,"symbolSize":20,"labelFontSize":9,"labelOffset":18.7,"rowPadding":1.7,"symbolStrokeWidth":1.5}}}},
   {"data":{"name":"one"},"mark":{"type":"text","fontSize":9},
    "encoding":{"x":{"datum":0.388,"type":"quantitative","axis":null},"y":{"datum":0.2815,"type":"quantitative","axis":null},"text":{"value":"(a)"}}}
  ]
 },
 {
  "width":192,"height":146,
  "resolve":{"axis":{"x":"independent","y":"independent"}},
  "layer":[
   {"data":{"name":"nc_b"},"mark":{"type":"rule","color":"#8c8c8c","strokeWidth":1},
    "encoding":{
     "x":{"field":"p","type":"quantitative","scale":{"domain":[0.34,1.18],"nice":false,"zero":false},"axis":{"orient":"top","values":[0.35,0.4,0.45,0.5,0.55,0.6,0.65,0.7,0.75,0.8,0.85,0.9,0.95,1.0,1.05,1.1,1.15],"labels":false,"tickSize":-2,"title":null}},
     "y":{"field":"ylo","type":"quantitative","scale":{"domain":[0,0.3],"nice":false},"axis":{"orient":"right","values":[0,0.05,0.1,0.15,0.2,0.25,0.3],"labels":false,"tickSize":-2.5,"title":null}},
     "y2":{"field":"yhi"}}},
   {"data":{"name":"nc_b"},"mark":{"type":"rule","color":"#8c8c8c","strokeWidth":1},
    "encoding":{
     "x":{"field":"xlo","type":"quantitative","scale":{"domain":[0.34,1.18],"nice":false,"zero":false},"axis":null},
     "x2":{"field":"xhi"},
     "y":{"field":"y","type":"quantitative","scale":{"domain":[0,0.3],"nice":false},"axis":null}}},
   {"data":{"name":"nc_b"},"mark":{"type":"tick","orient":"horizontal","color":"#8c8c8c","size":4,"thickness":1,"opacity":1},
    "encoding":{"x":{"field":"p","type":"quantitative","axis":null},"y":{"field":"ylo","type":"quantitative","axis":null}}},
   {"data":{"name":"nc_b"},"mark":{"type":"tick","orient":"horizontal","color":"#8c8c8c","size":4,"thickness":1,"opacity":1},
    "encoding":{"x":{"field":"p","type":"quantitative","axis":null},"y":{"field":"yhi","type":"quantitative","axis":null}}},
   {"data":{"name":"nc_b"},"mark":{"type":"tick","orient":"vertical","color":"#8c8c8c","size":4,"thickness":1,"opacity":1},
    "encoding":{"x":{"field":"xlo","type":"quantitative","axis":null},"y":{"field":"y","type":"quantitative","axis":null}}},
   {"data":{"name":"nc_b"},"mark":{"type":"tick","orient":"vertical","color":"#8c8c8c","size":4,"thickness":1,"opacity":1},
    "encoding":{"x":{"field":"xhi","type":"quantitative","axis":null},"y":{"field":"y","type":"quantitative","axis":null}}},
   {"data":{"name":"cur_b"},"transform":[{"fold":["Kadmotsev","Porcelli","Reference"],"as":["series","v"]}],
    "mark":{"type":"line","strokeWidth":1.5},
    "encoding":{
     "x":{"field":"p","type":"quantitative","axis":{"orient":"bottom","values":[0.35,0.4,0.45,0.5,0.55,0.6,0.65,0.7,0.75,0.8,0.85,0.9,0.95,1.0,1.05,1.1,1.15],"labelExpr":"round(datum.value*100)%10==0 ? replace(format(datum.value,'.2f'),'.',',') : ''","tickSize":{"condition":{"test":"round(datum.value*100)%10==0","value":2.5},"value":1.5},"title":"impact parameter p (m)"}},
     "y":{"field":"v","type":"quantitative","axis":{"orient":"left","values":[0,0.05,0.1,0.15,0.2,0.25,0.3],"labelExpr":"(abs(datum.value-0.25)<0.001 || abs(datum.value-0.05)<0.001 || datum.value<0.001) ? replace(format(datum.value,'.2f'),'.',',') : ''","title":"Count Rates (MHz)","titlePadding":4}},
     "color":{"field":"series","type":"nominal","scale":{"domain":["NC data","Reference","Kadmotsev","Porcelli"],"range":["black","#e5312b","#2f9a2f","#2b32e0"]},"legend":{"orient":"none","legendX":108.8,"legendY":11.5,"title":null,"symbolSize":20,"labelFontSize":9,"labelOffset":15.5,"rowPadding":1.7,"symbolStrokeWidth":1.5}},
     "detail":{"field":"series"}}},
   {"data":{"name":"nc_b"},"mark":{"type":"point","filled":false,"fill":"black","size":22,"strokeWidth":1.5,"opacity":1},
    "encoding":{
     "x":{"field":"p","type":"quantitative","axis":null},
     "y":{"field":"y","type":"quantitative","axis":null},
     "color":{"field":"series","type":"nominal","scale":{"domain":["NC data","Reference","Kadmotsev","Porcelli"],"range":["black","#e5312b","#2f9a2f","#2b32e0"]},"legend":{"orient":"none","legendX":108.8,"legendY":11.5,"title":null,"symbolSize":20,"labelFontSize":9,"labelOffset":15.5,"rowPadding":1.7,"symbolStrokeWidth":1.5}},
     "shape":{"field":"series","type":"nominal","scale":{"domain":["NC data","Reference","Kadmotsev","Porcelli"],"range":["circle","M-4,0H4","M-4,0H4","M-4,0H4"]},"legend":{"orient":"none","legendX":108.8,"legendY":11.5,"title":null,"symbolSize":20,"labelFontSize":9,"labelOffset":15.5,"rowPadding":1.7,"symbolStrokeWidth":1.5}}}},
   {"data":{"name":"one"},"mark":{"type":"text","fontSize":9},
    "encoding":{"x":{"datum":0.3925,"type":"quantitative","axis":null},"y":{"datum":0.2815,"type":"quantitative","axis":null},"text":{"value":"(b)"}}}
  ]
 },
 {
  "width":192,"height":145,
  "resolve":{"axis":{"x":"independent","y":"independent"}},
  "layer":[
   {"data":{"name":"c_lo"},"transform":[{"fold":["Kad (pre)","Por (pre)","Ref (pre)"],"as":["series","v"]}],
    "mark":{"type":"line","strokeWidth":1},
    "encoding":{
     "x":{"field":"E","type":"quantitative","scale":{"domain":[0,60],"nice":false},"axis":{"orient":"top","values":[0,5,10,15,20,25,30,35,40,45,50,55,60],"labels":false,"tickSize":-2,"title":null}},
     "y":{"field":"v","type":"quantitative","scale":{"domain":[0,3],"nice":false},"axis":{"orient":"right","values":[0,0.5,1,1.5,2,2.5,3],"labels":false,"tickSize":-2.5,"title":null}},
     "color":{"field":"series","type":"nominal","scale":{"domain":["Ref (pre)","Kad (pre)","Por (pre)"],"range":["#e5312b","#2f9a2f","#2b32e0"]},"legend":{"orient":"none","legendX":120.5,"legendY":12.8,"title":null,"symbolType":"M-4,0H4","symbolSize":25,"symbolStrokeWidth":1.3,"labelFontSize":8.5,"labelOffset":16.5,"rowPadding":3}},
     "detail":{"field":"series"}}},
   {"data":{"name":"c_hi"},"transform":[{"fold":["Kad (pre)","Por (pre)","Ref (pre)"],"as":["series","v"]}],
    "mark":{"type":"line","strokeWidth":1},
    "encoding":{
     "x":{"field":"E","type":"quantitative","axis":{"orient":"bottom","values":[0,5,10,15,20,25,30,35,40,45,50,55,60],"labelExpr":"datum.value%10==0 ? format(datum.value,'d') : ''","tickSize":{"condition":{"test":"datum.value%10==0","value":2.5},"value":1.5},"title":"energy (keV)"}},
     "y":{"field":"v","type":"quantitative","axis":{"orient":"left","values":[0,0.5,1,1.5,2,2.5,3],"labelExpr":"replace(format(datum.value,'.1f'),'.',',')","title":"∫ ƒ(E,λ) d λ (× 10⁸ eV⁻¹ cm⁻³)","titlePadding":4}},
     "color":{"field":"series","type":"nominal","scale":{"domain":["Ref (pre)","Kad (pre)","Por (pre)"],"range":["#e5312b","#2f9a2f","#2b32e0"]},"legend":{"orient":"none","legendX":120.5,"legendY":12.8,"title":null,"symbolType":"M-4,0H4","symbolSize":25,"symbolStrokeWidth":1.3,"labelFontSize":8.5,"labelOffset":16.5,"rowPadding":3}},
     "detail":{"field":"series"}}},
   {"data":{"name":"one"},"mark":{"type":"text","fontSize":9.5},
    "encoding":{"x":{"datum":4.7,"type":"quantitative","axis":null},"y":{"datum":2.814,"type":"quantitative","axis":null},"text":{"value":"(c) R = 0.95 m, Z = 0.0 m"}}}
  ]
 },
 {
  "width":192,"height":145,
  "resolve":{"axis":{"x":"independent","y":"independent"}},
  "layer":[
   {"data":{"name":"d_lo"},"transform":[{"fold":["Kad (pre)","Por (pre)","Ref (pre)"],"as":["series","v"]}],
    "mark":{"type":"line","strokeWidth":1},
    "encoding":{
     "x":{"field":"E","type":"quantitative","scale":{"domain":[0,60],"nice":false},"axis":{"orient":"top","values":[0,5,10,15,20,25,30,35,40,45,50,55,60],"labels":false,"tickSize":-2,"title":null}},
     "y":{"field":"v","type":"quantitative","scale":{"domain":[0,6],"nice":false},"axis":{"orient":"right","values":[0,1,2,3,4,5,6],"labels":false,"tickSize":-2.5,"title":null}},
     "color":{"field":"series","type":"nominal","scale":{"domain":["Ref (pre)","Kad (pre)","Por (pre)"],"range":["#e5312b","#2f9a2f","#2b32e0"]},"legend":{"orient":"none","legendX":121.5,"legendY":13.75,"title":null,"symbolType":"M-4,0H4","symbolSize":25,"symbolStrokeWidth":1.3,"labelFontSize":8.5,"labelOffset":14.5,"rowPadding":3}},
     "detail":{"field":"series"}}},
   {"data":{"name":"d_hi"},"transform":[{"fold":["Kad (pre)","Por (pre)","Ref (pre)"],"as":["series","v"]}],
    "mark":{"type":"line","strokeWidth":1},
    "encoding":{
     "x":{"field":"E","type":"quantitative","axis":{"orient":"bottom","values":[0,5,10,15,20,25,30,35,40,45,50,55,60],"labelExpr":"datum.value%10==0 ? format(datum.value,'d') : ''","tickSize":{"condition":{"test":"datum.value%10==0","value":2.5},"value":1.5},"title":"energy (keV)"}},
     "y":{"field":"v","type":"quantitative","axis":{"orient":"left","values":[0,1,2,3,4,5,6],"labelExpr":"replace(format(datum.value,'.1f'),'.',',')","title":"∫ ƒ(E,λ) d λ (× 10⁷ eV⁻¹ cm⁻³)","titlePadding":4}},
     "color":{"field":"series","type":"nominal","scale":{"domain":["Ref (pre)","Kad (pre)","Por (pre)"],"range":["#e5312b","#2f9a2f","#2b32e0"]},"legend":{"orient":"none","legendX":121.5,"legendY":13.75,"title":null,"symbolType":"M-4,0H4","symbolSize":25,"symbolStrokeWidth":1.3,"labelFontSize":8.5,"labelOffset":14.5,"rowPadding":3}},
     "detail":{"field":"series"}}},
   {"data":{"name":"one"},"mark":{"type":"text","fontSize":9.5},
    "encoding":{"x":{"datum":5.0,"type":"quantitative","axis":null},"y":{"datum":5.67,"type":"quantitative","axis":null},"text":{"value":"(d) R = 1.30 m, Z = 0.0 m"}}}
  ]
 }
]
}
